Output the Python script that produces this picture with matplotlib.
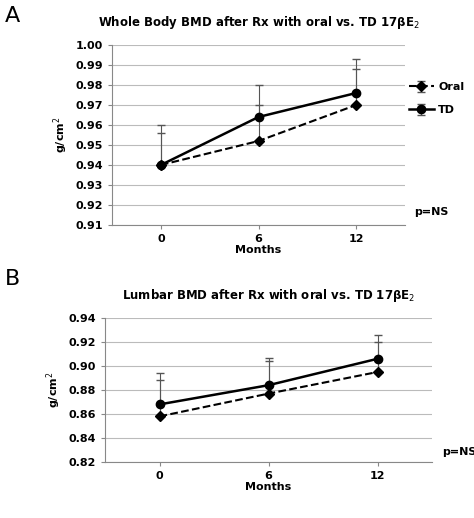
import matplotlib
matplotlib.use("Agg")
import matplotlib.pyplot as plt
import numpy as np

months = ["0", "6", "12"]
a_oral = [0.940, 0.952, 0.970]
a_td = [0.940, 0.964, 0.976]
a_oral_err = [0.016, 0.018, 0.018]
a_td_err = [0.020, 0.016, 0.017]
b_oral = [0.858, 0.877, 0.895]
b_td = [0.868, 0.884, 0.906]
b_oral_err = [0.030, 0.027, 0.025]
b_td_err = [0.026, 0.023, 0.020]

plt.rcParams['font.family'] = ['DejaVu Sans']
fig = plt.figure(figsize=(4.74, 5.18), dpi=100)
W, H = 474, 518

def panel(rect, oral, td, oe, te, ylim, step, title, legend):
    ax = fig.add_axes([rect[0]/W, 1-rect[3]/H, (rect[2]-rect[0])/W, (rect[3]-rect[1])/H])
    x = range(len(months))
    ax.errorbar(x, oral, yerr=[[0]*3, oe], fmt='--D', color='black', ms=5, lw=1.5,
                ecolor='#555555', elinewidth=0.8, capsize=3, label='Oral')
    ax.errorbar(x, td, yerr=[[0]*3, te], fmt='-o', color='black', ms=6, lw=1.8,
                ecolor='#555555', elinewidth=0.8, capsize=3, label='TD')
    ticks = np.arange(ylim[0], ylim[1]+step/2, step)
    ax.set_yticks(ticks)
    ax.set_yticklabels([f"{t:.2f}" for t in ticks], fontsize=8, fontweight='bold')
    ax.set_ylim(ylim)
    ax.set_xlim(-0.5, 2.5)
    ax.set_xticks(list(x))
    ax.set_xticklabels(months, fontsize=8, fontweight='bold')
    ax.grid(axis='y', color='#bbbbbb', lw=0.8)
    ax.set_axisbelow(True)
    for s in ['top', 'right']:
        ax.spines[s].set_visible(False)
    ax.spines['left'].set_color('#888888')
    ax.spines['bottom'].set_color('#888888')
    ax.tick_params(length=3, color='#888888')
    ax.set_xlabel('Months', fontsize=8, fontweight='bold', labelpad=1)
    ax.set_ylabel('g/cm$^2$', fontsize=8, fontweight='bold')
    ax.set_title(title, fontsize=8.5, fontweight='bold', pad=14)
    ax.text(1.03, 0.07, 'p=NS', transform=ax.transAxes, fontsize=8, fontweight='bold', va='center')
    if legend:
        ax.legend(loc='upper left', bbox_to_anchor=(0.98, 0.85), frameon=False,
                  prop={'size': 8, 'weight': 'bold'}, handlelength=2.2, labelspacing=1.2,
                  handletextpad=0.4)
    return ax

panel((112, 45, 405, 225), a_oral, a_td, a_oral_err, a_td_err, (0.91, 1.00), 0.01,
      'Whole Body BMD after Rx with oral vs. TD 17βE$_2$', True)
panel((105, 318, 432, 462), b_oral, b_td, b_oral_err, b_td_err, (0.82, 0.94), 0.02,
      'Lumbar BMD after Rx with oral vs. TD 17βE$_2$', False)
fig.text(5/W, 1-22/H, 'A', fontsize=16)
fig.text(5/W, 1-285/H, 'B', fontsize=16)
fig.savefig('out.png', dpi=100)
